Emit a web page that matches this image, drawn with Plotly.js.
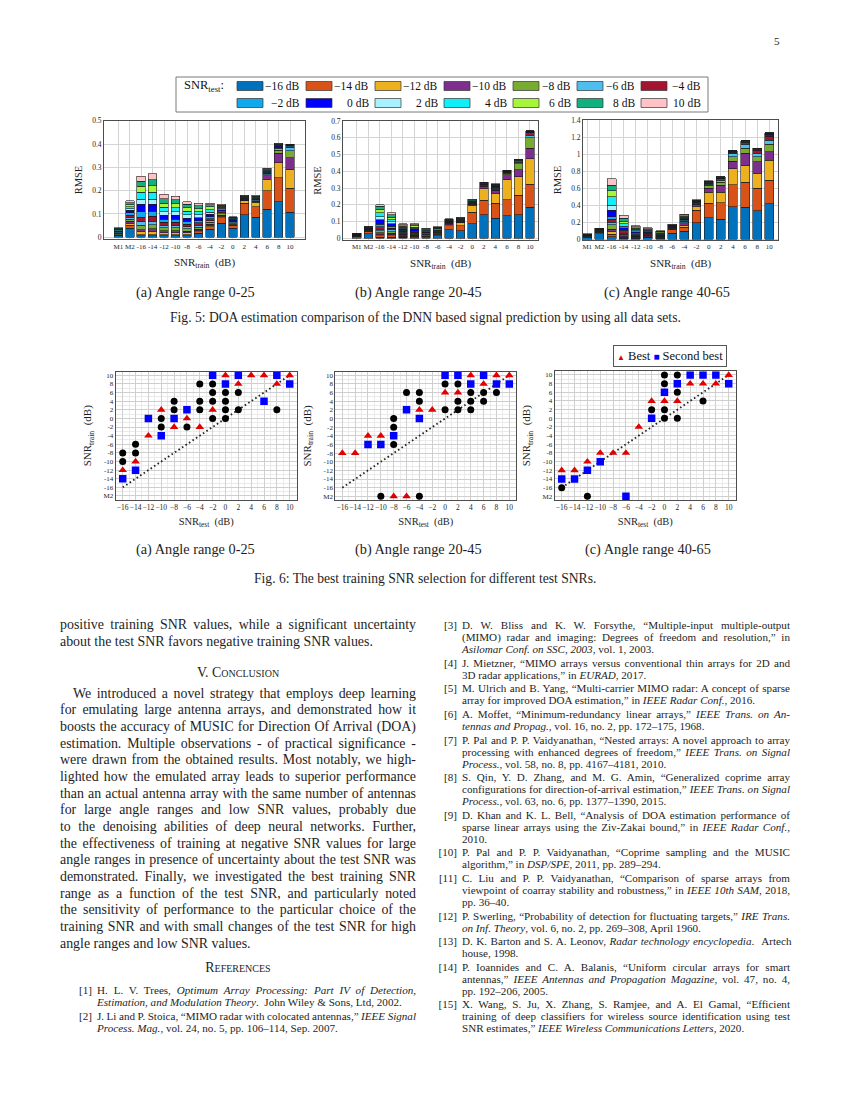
<!DOCTYPE html>
<html>
<head>
<meta charset="utf-8">
<script src="https://cdn.plot.ly/plotly-3.0.1.min.js"></script>
<style>
html,body{margin:0;padding:0;background:#fff;}
body{width:850px;height:1100px;position:relative;overflow:hidden;font-family:"Liberation Serif","Times New Roman",Times,serif;color:#1e1e1e;}
#fig{position:absolute;left:0;top:0;width:850px;height:600px;}
.ln{position:absolute;white-space:nowrap;line-height:1.2;}
.sc{font-variant:small-caps;}
</style>
</head>
<body>
<div id="fig"></div>
<script>
// ---------------- DATA ----------------
const trainLabels = ['M1','M2','-16','-14','-12','-10','-8','-6','-4','-2','0','2','4','6','8','10'];
const testSnr = [-16,-14,-12,-10,-8,-6,-4,-2,0,2,4,6,8,10];
const testNames = testSnr.map(v => (v < 0 ? '\u2212' + (-v) : String(v)) + ' dB');
const testColors = ['#0072BD','#D95319','#EDB120','#7E2F8E','#77AC30','#4DBEEE','#A2142F','#12A8EC','#0000FF','#A8F2FF','#10EEF8','#A6F53A','#12B07E','#FFC2C6'];

// Fig.5 RMSE, one row per training SNR (M1, M2, -16 ... 10), values per test SNR (-16 ... 10 dB)
const rmseA = [
 [0.006,0.002,0.002,0.002,0.003,0.003,0.002,0.003,0.003,0.003,0.003,0.003,0.003,0.003],
 [0.039,0.012,0.010,0.008,0.008,0.010,0.008,0.010,0.010,0.008,0.008,0.008,0.010,0.007],
 [0.006,0.006,0.012,0.008,0.020,0.015,0.020,0.022,0.032,0.022,0.030,0.025,0.022,0.022],
 [0.006,0.006,0.014,0.010,0.018,0.015,0.022,0.020,0.030,0.022,0.030,0.028,0.025,0.026],
 [0.006,0.006,0.008,0.008,0.012,0.012,0.012,0.014,0.016,0.016,0.018,0.018,0.020,0.018],
 [0.006,0.006,0.008,0.008,0.012,0.012,0.012,0.014,0.016,0.016,0.017,0.017,0.018,0.015],
 [0.006,0.006,0.007,0.007,0.010,0.010,0.010,0.012,0.014,0.014,0.015,0.015,0.016,0.011],
 [0.017,0.006,0.006,0.006,0.008,0.009,0.010,0.010,0.012,0.012,0.013,0.013,0.014,0.010],
 [0.035,0.010,0.006,0.006,0.007,0.008,0.008,0.008,0.010,0.010,0.011,0.011,0.010,0.006],
 [0.060,0.024,0.006,0.005,0.005,0.005,0.005,0.004,0.005,0.005,0.005,0.004,0.004,0.004],
 [0.039,0.012,0.004,0.004,0.004,0.003,0.003,0.003,0.003,0.003,0.003,0.003,0.003,0.002],
 [0.096,0.050,0.010,0.003,0.002,0.002,0.002,0.002,0.002,0.002,0.002,0.002,0.003,0.003],
 [0.086,0.045,0.019,0.004,0.003,0.003,0.002,0.002,0.002,0.002,0.003,0.003,0.003,0.004],
 [0.120,0.080,0.049,0.014,0.005,0.004,0.003,0.003,0.003,0.003,0.003,0.003,0.004,0.003],
 [0.153,0.103,0.064,0.040,0.014,0.008,0.004,0.003,0.003,0.003,0.002,0.002,0.002,0.002],
 [0.107,0.103,0.079,0.052,0.030,0.014,0.004,0.003,0.002,0.001,0.001,0.001,0.001,0.001]
];
const rmseB = [
 [0.010,0.002,0.001,0.001,0.002,0.002,0.001,0.002,0.002,0.002,0.002,0.001,0.001,0.001],
 [0.026,0.012,0.004,0.003,0.003,0.003,0.003,0.003,0.003,0.002,0.002,0.002,0.002,0.002],
 [0.006,0.008,0.008,0.010,0.012,0.010,0.014,0.016,0.026,0.020,0.022,0.022,0.018,0.008],
 [0.006,0.008,0.008,0.008,0.010,0.010,0.010,0.012,0.014,0.012,0.014,0.014,0.016,0.010],
 [0.005,0.008,0.005,0.005,0.006,0.006,0.006,0.006,0.006,0.006,0.007,0.007,0.007,0.006],
 [0.004,0.004,0.004,0.005,0.006,0.006,0.006,0.006,0.012,0.007,0.007,0.007,0.007,0.005],
 [0.004,0.004,0.004,0.004,0.004,0.004,0.004,0.004,0.005,0.005,0.005,0.005,0.004,0.004],
 [0.016,0.008,0.004,0.004,0.004,0.004,0.004,0.004,0.004,0.004,0.004,0.004,0.003,0.003],
 [0.050,0.026,0.006,0.004,0.004,0.003,0.003,0.003,0.003,0.003,0.003,0.003,0.003,0.002],
 [0.046,0.030,0.016,0.004,0.003,0.003,0.003,0.003,0.003,0.003,0.003,0.003,0.003,0.002],
 [0.086,0.070,0.040,0.006,0.004,0.003,0.003,0.003,0.002,0.002,0.003,0.003,0.004,0.003],
 [0.142,0.084,0.070,0.014,0.006,0.004,0.003,0.002,0.002,0.002,0.002,0.002,0.002,0.001],
 [0.120,0.090,0.060,0.016,0.008,0.006,0.005,0.004,0.003,0.003,0.003,0.003,0.003,0.002],
 [0.134,0.096,0.120,0.028,0.010,0.004,0.003,0.002,0.002,0.002,0.002,0.001,0.001,0.001],
 [0.140,0.116,0.112,0.040,0.036,0.010,0.004,0.004,0.002,0.002,0.002,0.002,0.001,0.001],
 [0.186,0.136,0.154,0.060,0.064,0.016,0.008,0.006,0.004,0.003,0.002,0.001,0.001,0.001]
];
const rmseC = [
 [0.012,0.004,0.004,0.004,0.004,0.004,0.004,0.004,0.004,0.003,0.003,0.003,0.003,0.003],
 [0.060,0.015,0.006,0.005,0.005,0.005,0.004,0.004,0.004,0.004,0.004,0.004,0.004,0.003],
 [0.025,0.030,0.030,0.030,0.050,0.030,0.035,0.030,0.080,0.060,0.100,0.070,0.060,0.080],
 [0.008,0.010,0.010,0.012,0.014,0.014,0.016,0.018,0.030,0.020,0.026,0.026,0.040,0.034],
 [0.010,0.008,0.008,0.008,0.010,0.010,0.010,0.010,0.014,0.012,0.014,0.014,0.016,0.013],
 [0.012,0.008,0.008,0.008,0.008,0.008,0.008,0.009,0.010,0.010,0.012,0.010,0.012,0.010],
 [0.010,0.006,0.006,0.006,0.006,0.006,0.006,0.007,0.007,0.007,0.008,0.008,0.008,0.007],
 [0.067,0.040,0.010,0.006,0.006,0.005,0.005,0.005,0.005,0.005,0.005,0.005,0.005,0.004],
 [0.094,0.043,0.027,0.014,0.014,0.010,0.010,0.012,0.012,0.010,0.012,0.012,0.014,0.010],
 [0.192,0.149,0.040,0.020,0.010,0.008,0.006,0.006,0.006,0.005,0.005,0.004,0.004,0.004],
 [0.251,0.169,0.129,0.051,0.031,0.012,0.008,0.006,0.006,0.005,0.005,0.005,0.004,0.004],
 [0.235,0.192,0.125,0.078,0.040,0.020,0.008,0.008,0.006,0.005,0.005,0.004,0.004,0.003],
 [0.380,0.259,0.188,0.090,0.051,0.035,0.010,0.008,0.006,0.004,0.003,0.002,0.002,0.001],
 [0.373,0.294,0.196,0.145,0.059,0.047,0.016,0.010,0.006,0.004,0.003,0.002,0.001,0.001],
 [0.330,0.267,0.176,0.137,0.059,0.039,0.035,0.010,0.006,0.003,0.002,0.001,0.001,0.001],
 [0.416,0.278,0.235,0.098,0.086,0.051,0.047,0.012,0.010,0.006,0.005,0.003,0.002,0.002]
];

// Fig.6 best training SNR selections
const trainTicks = ['M2','-16','-14','-12','-10','-8','-6','-4','-2','0','2','4','6','8','10'];
const diagTest = [-16, 10];
const diagTrain = ['-16', '10'];

const bestA_test  = [-16,-14,-12,-10,-8,-6,-4,-2,0,2,4,6,8,10];
const bestA_train = ['-12','-10','-4','2','-2','0','-2','2','10','8','10','10','8','10'];
const secondA_test  = [-16,-14,-12,-10,-8,-6,-2,0,2,6,8,10];
const secondA_train = ['-14','-12','0','-4','0','2','10','8','10','4','10','8'];
const otherA_test  = [-16,-16,-14,-14,-10,-10,-8,-8,-6,-4,-4,-4,-2,-2,-2,-2,0,0,0,0,2,2,8];
const otherA_train = ['-8','-10','-6','-8','0','-2','4','2','-2','8','4','2','8','6','4','0','6','4','2','0','6','2','2'];

const bestB_test  = [-16,-14,-12,-10,-8,-6,-4,-2,0,2,4,6,8,10];
const bestB_train = ['-8','-8','-4','-4','M2','M2','2','2','6','6','10','8','10','10'];
const secondB_test  = [-12,-10,-8,-6,-4,0,2,4,6,8,10];
const secondB_train = ['-6','-6','-4','2','0','10','10','8','10','8','8'];
const otherB_test  = [-10,-8,-8,-8,-6,-4,-4,-4,0,0,2,2,2,4,4,4,6,6,8];
const otherB_train = ['M2','0','-2','-6','6','6','4','M2','8','2','8','4','2','6','4','2','6','4','6'];

const bestC_test  = [-16,-14,-12,-10,-8,-6,-4,-2,0,2,4,6,8,10];
const bestC_train = ['-12','-12','-10','-8','-8','-8','-2','4','4','4','8','8','8','10'];
const secondC_test  = [-16,-14,-12,-10,-6,-2,0,2,4,6,8,10];
const secondC_train = ['-14','-14','-12','-10','M2','0','6','8','10','10','10','8'];
const otherC_test  = [-16,-12,-2,0,0,0,0,2,2,2,6];
const otherC_train = ['-16','M2','2','10','8','2','0','10','6','0','4'];

// ---------------- FIGURE ----------------
const FONT = 'Liberation Serif, Times New Roman, serif';
const W = 850, H = 600;
const px = x => x / W;
const py = y => 1 - y / H;
const yPos = v => (v === 'M2' ? -18 : Number(v));
const tickTxt = v => (v < 0 ? '\u2212' + (-v) : String(v));

const traces = [];
const layout = {
  width: W, height: H, margin: {l:0, r:0, t:0, b:0},
  paper_bgcolor: '#fff', plot_bgcolor: '#fff',
  barmode: 'stack', showlegend: false, hovermode: false,
  font: {family: FONT, color: '#1e1e1e'},
  shapes: [], annotations: []
};

const GRID = '#d4d4d4', FRAME = '#3a3a3a';

// bar panels: plot rectangles in page pixels
const barPanels = [
  {rows: rmseA, x0: 104, x1: 305,   y0: 120.7, y1: 239.3, xr: [-1.25, 16.3],  yr: [-0.0086, 0.5], dt: 0.1},
  {rows: rmseB, x0: 343, x1: 538.3, y0: 121,   y1: 240,   xr: [-1.19, 15.72], yr: [-0.0101, 0.7], dt: 0.1},
  {rows: rmseC, x0: 583, x1: 778.3, y0: 120,   y1: 240,   xr: [-0.35, 15.74], yr: [-0.0118, 1.4], dt: 0.2}
];
barPanels.forEach((p, k) => {
  const n = k === 0 ? '' : String(k + 1);
  testSnr.forEach((snr, s) => {
    traces.push({
      type: 'bar', x: trainLabels, y: p.rows.map(r => r[s]),
      xaxis: 'x' + n, yaxis: 'y' + n, name: testNames[s], width: 0.74,
      marker: {color: testColors[s], line: {color: '#1b1b1b', width: 0.6}}
    });
  });
  layout['xaxis' + n] = {
    type: 'category', domain: [px(p.x0), px(p.x1)], range: p.xr, anchor: 'y' + n,
    showgrid: true, gridcolor: GRID, gridwidth: 1, zeroline: false,
    showline: true, mirror: true, linecolor: FRAME, linewidth: 0.9, ticks: '',
    tickangle: 0, tickfont: {size: 7, family: FONT},
    title: {text: 'SNR<sub>train</sub>  (dB)', font: {size: 11, family: FONT}, standoff: 8}
  };
  layout['yaxis' + n] = {
    domain: [py(p.y1), py(p.y0)], range: p.yr, anchor: 'x' + n, dtick: p.dt, tick0: 0,
    showgrid: true, gridcolor: GRID, gridwidth: 1, zeroline: false,
    showline: true, mirror: true, linecolor: FRAME, linewidth: 0.9, ticks: '',
    tickfont: {size: 7.5, family: FONT},
    title: {text: 'RMSE', font: {size: 10.5, family: FONT}, standoff: 7}
  };
});

// scatter panels: positions of tick -16 / 10 (x) and 10 / M2 (y)
const scPanels = [
  {p0: 122.7, p1: 289.7, q0: 375.3, q1: 496.0,
   best: [bestA_test, bestA_train], second: [secondA_test, secondA_train], other: [otherA_test, otherA_train]},
  {p0: 342.3, p1: 509.3, q0: 375.3, q1: 496.3,
   best: [bestB_test, bestB_train], second: [secondB_test, secondB_train], other: [otherB_test, otherB_train]},
  {p0: 561.7, p1: 728.7, q0: 375.0, q1: 496.3,
   best: [bestC_test, bestC_train], second: [secondC_test, secondC_train], other: [otherC_test, otherC_train]}
];
const XR = [-17.1, 11.1], YR = [-18.9, 10.85];
scPanels.forEach((p, k) => {
  const n = String(k + 4);
  const sx = (p.p1 - p.p0) / 26, sy = (p.q1 - p.q0) / 28;
  const left = p.p0 - (-16 - XR[0]) * sx, right = p.p1 + (XR[1] - 10) * sx;
  const top = p.q0 - (YR[1] - 10) * sy, bottom = p.q1 + (-18 - YR[0]) * sy;
  const ax = {xaxis: 'x' + n, yaxis: 'y' + n};
  traces.push(Object.assign({type: 'scatter', mode: 'lines', x: diagTest, y: diagTrain.map(yPos),
    line: {color: '#222', width: 1.8, dash: '1.6px,2.6px'}, name: 'diagonal'}, ax));
  traces.push(Object.assign({type: 'scatter', mode: 'markers', x: p.other[0], y: p.other[1].map(yPos),
    marker: {symbol: 'circle', size: 7, color: '#000'}, name: 'Other'}, ax));
  traces.push(Object.assign({type: 'scatter', mode: 'markers', x: p.second[0], y: p.second[1].map(yPos),
    marker: {symbol: 'square', size: 7.5, color: '#0000FF'}, name: 'Second best'}, ax));
  traces.push(Object.assign({type: 'scatter', mode: 'markers', x: p.best[0], y: p.best[1].map(yPos),
    marker: {symbol: 'triangle-up', size: 7.5, color: '#E00000'}, name: 'Best'}, ax));
  layout['xaxis' + n] = {
    domain: [px(left), px(right)], range: XR, anchor: 'y' + n,
    tickmode: 'array', tickvals: testSnr, ticktext: testSnr.map(tickTxt),
    showgrid: true, gridcolor: '#cfcfcf', gridwidth: 1, zeroline: false,
    minor: {dtick: 1, tick0: 0, showgrid: true, gridcolor: '#e6e6e6', gridwidth: 0.8, ticks: ''},
    showline: true, mirror: true, linecolor: FRAME, linewidth: 0.9, ticks: '',
    tickangle: 0, tickfont: {size: 7.5, family: FONT},
    title: {text: 'SNR<sub>test</sub>  (dB)', font: {size: 10.5, family: FONT}, standoff: 6}
  };
  layout['yaxis' + n] = {
    domain: [py(bottom), py(top)], range: YR, anchor: 'x' + n,
    tickmode: 'array', tickvals: trainTicks.map(yPos), ticktext: trainTicks,
    showgrid: true, gridcolor: '#cfcfcf', gridwidth: 1, zeroline: false,
    minor: {dtick: 1, tick0: 0, showgrid: true, gridcolor: '#e6e6e6', gridwidth: 0.8, ticks: ''},
    showline: true, mirror: true, linecolor: FRAME, linewidth: 0.9, ticks: '',
    tickfont: {size: 7, family: FONT},
    title: {text: 'SNR<sub>train</sub>  (dB)', font: {size: 11, family: FONT}, standoff: 9}
  };
});

// bar legend (SNR_test)
const legCols = [237, 306, 375, 444, 513, 577, 641];
const legTextEnd = [302, 371, 440, 509, 573, 637, 703];
const legRows = [86, 103];
layout.shapes.push({type: 'rect', xref: 'paper', yref: 'paper', x0: px(176), x1: px(708), y0: py(112), y1: py(77),
  line: {color: '#7a7a7a', width: 1}, fillcolor: 'rgba(0,0,0,0)'});
layout.annotations.push({xref: 'paper', yref: 'paper', x: px(182), y: py(legRows[0]), xanchor: 'left', yanchor: 'middle',
  text: 'SNR<sub>test</sub>:', showarrow: false, font: {family: FONT, size: 12.5, color: '#111'}});
testNames.forEach((nm, i) => {
  const r = Math.floor(i / 7), c = i % 7;
  layout.shapes.push({type: 'rect', xref: 'paper', yref: 'paper',
    x0: px(legCols[c]), x1: px(legCols[c] + 26), y0: py(legRows[r] + 4.5), y1: py(legRows[r] - 4.5),
    fillcolor: testColors[i], line: {color: '#333', width: 0.7}});
  layout.annotations.push({xref: 'paper', yref: 'paper', x: px(legTextEnd[c]), y: py(legRows[r]),
    xanchor: 'right', yanchor: 'middle', text: nm, showarrow: false, font: {family: FONT, size: 11.5, color: '#111'}});
});

// Best / Second best legend
layout.annotations.push({xref: 'paper', yref: 'paper', x: px(669.5), y: py(356), xanchor: 'center', yanchor: 'middle',
  text: '<span style="color:#E00000;font-size:8px">\u25B2</span> Best <span style="color:#0000FF;font-size:10px">\u25A0</span> Second best',
  showarrow: false, font: {family: FONT, size: 12.5, color: '#111'}, bordercolor: '#555', borderwidth: 1, borderpad: 3, bgcolor: '#fff'});

// captions
const caps = [
  {t: '(a) Angle range 0-25', x: 195, y: 292, s: 14.3},
  {t: '(b) Angle range 20-45', x: 418, y: 292, s: 14.3},
  {t: '(c) Angle range 40-65', x: 667, y: 292, s: 14.3},
  {t: 'Fig. 5: DOA estimation comparison of the DNN based signal prediction by using all data sets.', x: 425, y: 317, s: 13.6},
  {t: '(a) Angle range 0-25', x: 195, y: 549, s: 14.3},
  {t: '(b) Angle range 20-45', x: 418, y: 549, s: 14.3},
  {t: '(c) Angle range 40-65', x: 648, y: 549, s: 14.3},
  {t: 'Fig. 6: The best training SNR selection for different test SNRs.', x: 425, y: 578, s: 13.6}
];
caps.forEach(c => layout.annotations.push({xref: 'paper', yref: 'paper', x: px(c.x), y: py(c.y),
  xanchor: 'center', yanchor: 'middle', text: c.t, showarrow: false, font: {family: FONT, size: c.s, color: '#1e1e1e'}}));

Plotly.newPlot('fig', traces, layout, {staticPlot: true, displayModeBar: false});

// ---------------- PAGE TEXT ----------------
function addLine(html, x, yc, fs, targetW, cls) {
  const d = document.createElement('div');
  d.className = 'ln' + (cls ? ' ' + cls : '');
  d.style.left = x + 'px';
  d.style.top = (yc - 0.61 * fs) + 'px';
  d.style.fontSize = fs + 'px';
  d.innerHTML = html;
  document.body.appendChild(d);
  if (targetW) {
    const nat = d.getBoundingClientRect().width;
    const n = (d.textContent.match(/ /g) || []).length;
    if (n) d.style.wordSpacing = ((targetW - nat) / n) + 'px';
  }
  return d;
}
function addCentered(html, cx, yc, fs, cls) {
  const d = addLine(html, 0, yc, fs, 0, cls);
  d.style.left = (cx - d.getBoundingClientRect().width / 2) + 'px';
}
function addRight(html, rx, yc, fs) {
  const d = addLine(html, 0, yc, fs, 0);
  d.style.left = (rx - d.getBoundingClientRect().width) + 'px';
}

addLine('5', 774, 42, 11, 0);

const BFS = 13.9, BLH = 16.67, colL = 60, colW = 356;
addLine('positive training SNR values, while a significant uncertainty', colL, 625, BFS, colW);
addLine('about the test SNR favors negative training SNR values.', colL, 642, BFS, 0);
addCentered('V. Conclusion', colL + colW / 2, 673, BFS, 'sc');

const conclusion = [
  'We introduced a novel strategy that employs deep learning',
  'for emulating large antenna arrays, and demonstrated how it',
  'boosts the accuracy of MUSIC for Direction Of Arrival (DOA)',
  'estimation. Multiple observations - of practical significance -',
  'were drawn from the obtained results. Most notably, we high-',
  'lighted how the emulated array leads to superior performance',
  'than an actual antenna array with the same number of antennas',
  'for large angle ranges and low SNR values, probably due',
  'to the denoising abilities of deep neural networks. Further,',
  'the effectiveness of training at negative SNR values for large',
  'angle ranges in presence of uncertainty about the test SNR was',
  'demonstrated. Finally, we investigated the best training SNR',
  'range as a function of the test SNR, and particularly noted',
  'the sensitivity of performance to the particular choice of the',
  'training SNR and with small changes of the test SNR for high',
  'angle ranges and low SNR values.'
];
conclusion.forEach((t, i) => {
  const ind = i === 0 ? 13 : 0;
  const last = i === conclusion.length - 1;
  addLine(t, colL + ind, 694 + i * BLH, BFS, last ? 0 : colW - ind);
});
addCentered('References', colL + colW / 2, 968, BFS, 'sc');

const RFS = 11.1, RLH = 12.0, RGAP = 1.6;
function addRefs(refs, labelRight, textX, textW, y0) {
  let y = y0;
  refs.forEach(r => {
    addRight(r[0], labelRight, y, RFS);
    r[1].forEach((t, i) => {
      const last = i === r[1].length - 1;
      addLine(t, textX, y, RFS, last ? 0 : textW);
      y += RLH;
    });
    y += RGAP;
  });
}
const refsLeft = [
  ['[1]', ['H. L. V. Trees, <i>Optimum Array Processing: Part IV of Detection,</i>',
           '<i>Estimation, and Modulation Theory</i>.&nbsp;&nbsp;John Wiley &amp; Sons, Ltd, 2002.']],
  ['[2]', ['J. Li and P. Stoica, \u201cMIMO radar with colocated antennas,\u201d <i>IEEE Signal</i>',
           '<i>Process. Mag.</i>, vol. 24, no. 5, pp. 106\u2013114, Sep. 2007.']]
];
const refsRight = [
  ['[3]', ['D. W. Bliss and K. W. Forsythe, \u201cMultiple-input multiple-output',
           '(MIMO) radar and imaging: Degrees of freedom and resolution,\u201d in',
           '<i>Asilomar Conf. on SSC, 2003</i>, vol. 1, 2003.']],
  ['[4]', ['J. Mietzner, \u201cMIMO arrays versus conventional thin arrays for 2D and',
           '3D radar applications,\u201d in <i>EURAD</i>, 2017.']],
  ['[5]', ['M. Ulrich and B. Yang, \u201cMulti-carrier MIMO radar: A concept of sparse',
           'array for improved DOA estimation,\u201d in <i>IEEE Radar Conf.</i>, 2016.']],
  ['[6]', ['A. Moffet, \u201cMinimum-redundancy linear arrays,\u201d <i>IEEE Trans. on An-</i>',
           '<i>tennas and Propag.</i>, vol. 16, no. 2, pp. 172\u2013175, 1968.']],
  ['[7]', ['P. Pal and P. P. Vaidyanathan, \u201cNested arrays: A novel approach to array',
           'processing with enhanced degrees of freedom,\u201d <i>IEEE Trans. on Signal</i>',
           '<i>Process.</i>, vol. 58, no. 8, pp. 4167\u20134181, 2010.']],
  ['[8]', ['S. Qin, Y. D. Zhang, and M. G. Amin, \u201cGeneralized coprime array',
           'configurations for direction-of-arrival estimation,\u201d <i>IEEE Trans. on Signal</i>',
           '<i>Process.</i>, vol. 63, no. 6, pp. 1377\u20131390, 2015.']],
  ['[9]', ['D. Khan and K. L. Bell, \u201cAnalysis of DOA estimation performance of',
           'sparse linear arrays using the Ziv-Zakai bound,\u201d in <i>IEEE Radar Conf.</i>,',
           '2010.']],
  ['[10]', ['P. Pal and P. P. Vaidyanathan, \u201cCoprime sampling and the MUSIC',
            'algorithm,\u201d in <i>DSP/SPE</i>, 2011, pp. 289\u2013294.']],
  ['[11]', ['C. Liu and P. P. Vaidyanathan, \u201cComparison of sparse arrays from',
            'viewpoint of coarray stability and robustness,\u201d in <i>IEEE 10th SAM</i>, 2018,',
            'pp. 36\u201340.']],
  ['[12]', ['P. Swerling, \u201cProbability of detection for fluctuating targets,\u201d <i>IRE Trans.</i>',
            '<i>on Inf. Theory</i>, vol. 6, no. 2, pp. 269\u2013308, April 1960.']],
  ['[13]', ['D. K. Barton and S. A. Leonov, <i>Radar technology encyclopedia</i>.&nbsp;&nbsp;Artech',
            'house, 1998.']],
  ['[14]', ['P. Ioannides and C. A. Balanis, \u201cUniform circular arrays for smart',
            'antennas,\u201d <i>IEEE Antennas and Propagation Magazine</i>, vol. 47, no. 4,',
            'pp. 192\u2013206, 2005.']],
  ['[15]', ['X. Wang, S. Ju, X. Zhang, S. Ramjee, and A. El Gamal, \u201cEfficient',
            'training of deep classifiers for wireless source identification using test',
            'SNR estimates,\u201d <i>IEEE Wireless Communications Letters</i>, 2020.']]
];
addRefs(refsLeft, 92, 97, 416 - 97, 991);
addRefs(refsRight, 457, 462, 790 - 462, 626);
</script>
</body>
</html>
